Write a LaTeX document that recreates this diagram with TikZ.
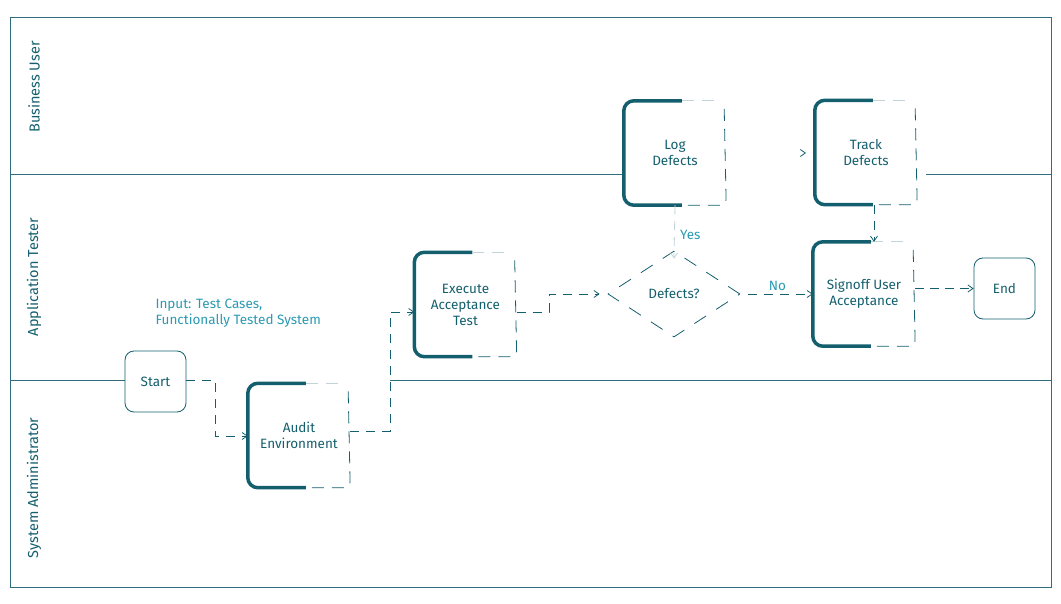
\documentclass[tikz,border=0pt]{standalone}
\usepackage{fontspec}
\setmainfont{Fira Sans}
\usetikzlibrary{arrows.meta,shapes.geometric}
\definecolor{dk}{HTML}{145F6E}
\definecolor{lt}{HTML}{C3D3D8}
\definecolor{ln}{HTML}{2E6E7C}
\definecolor{lb}{HTML}{2A9AB2}
\tikzset{
  txt/.style={font=\fontsize{13.5}{16}\selectfont, text=dk, align=center},
  box/.style={txt, minimum width=102pt, minimum height=104pt, inner sep=0pt},
  term/.style={txt, draw=dk, rounded corners=9pt, minimum width=61pt, minimum height=61pt, line width=0.8pt},
  conn/.style={draw=dk, line width=0.8pt, dash pattern=on 9pt off 7pt, -{Straight Barb[length=5pt,width=7pt]}},
  lane/.style={draw=ln, line width=0.8pt},
  lanelab/.style={font=\fontsize{14.5}{16}\selectfont, text=dk, rotate=90},
}
\newcommand{\procbox}[1]{%
  \draw[dk, line width=3.5pt, rounded corners=10pt] ([xshift=58pt]#1.north west) -- (#1.north west) -- (#1.south west) -- ([xshift=58pt]#1.south west);
  \draw[lt, line width=0.8pt, dash pattern=on 12pt off 8pt] ([xshift=58pt]#1.north west) -- ([xshift=-8pt]#1.north east);
  \draw[dk, line width=0.8pt, dash pattern=on 12pt off 8pt, rounded corners=6pt] ([xshift=-2pt,yshift=-8pt]#1.north east) -- (#1.south east) -- ([xshift=58pt]#1.south west);
}
\begin{document}
\begin{tikzpicture}[x=1pt,y=-1pt]
\useasboundingbox (0,0) rectangle (1061,604);
\draw[lane] (10,17) rectangle (1051,587);
\draw[lane] (10,174) -- (624,174) (926,174) -- (1051,174);
\draw[lane] (10,380) -- (125,380) (390,380) -- (1051,380);
\node[lanelab] (l1) at (34,87) {Business User};
\node[lanelab] (l2) at (34,277) {Application Tester};
\node[lanelab] (l3) at (34,488) {System Administrator};

\node[box] (log) at (675,153) {Log\\Defects};
\node[box] (track) at (866,152.5) {Track\\Defects};
\node[box] (exec) at (465.5,304.5) {Execute\\Acceptance\\Test};
\node[box] (sign) at (864,294) {Signoff User\\Acceptance};
\node[box] (audit) at (299,435.5) {Audit\\Environment};
\procbox{log}\procbox{track}\procbox{exec}\procbox{sign}\procbox{audit}
\node[term] (start) at (155.5,381.5) {Start};
\node[term] (end) at (1004.5,288.5) {End};
\node[txt, draw=dk, line width=0.8pt, dash pattern=on 14pt off 12pt, diamond, minimum width=132pt, minimum height=86pt, inner sep=0pt, aspect=1.5] (dec) at (674,294) {Defects?};
\node[txt, text=lb, align=left, anchor=west] (inp) at (152,313) {Input: Test Cases,\\Functionally Tested System};

\coordinate (a1) at (215,380);
\coordinate (a2) at (215,436);
\draw[conn] (start.east|-a1) -- (a1) -- (a2) -- (audit.west|-a2);
\coordinate (b1) at (390,431);
\coordinate (b2) at (390,312);
\draw[conn] (audit.east|-b1) -- (b1) -- (b2) -- (exec.west|-b2);
\coordinate (c1) at (549,312);
\coordinate (c2) at (549,294);
\draw[conn] (exec.east|-c1) -- (c1) -- (c2) -- ([xshift=-8pt]dec.west);
\draw[conn] ([xshift=8pt]dec.east) -- node[above, txt, text=lb, pos=0.45] {No} (sign.west|-dec);
\draw[conn, draw=lt] (log.south) -- node[right, txt, text=lb, pos=0.55, xshift=2pt] {Yes} ([yshift=-8pt]dec.north);
\draw[conn] (track.south-|sign.north) ++(10pt,0) -- ([xshift=10pt]sign.north);
\coordinate (t1) at (806,153);
\draw[conn, dash pattern=on 0pt off 20pt] ([xshift=-7pt]t1) -- (t1);
\draw[conn, dash pattern=on 9pt off 6pt] (sign.east|-end) -- (end.west);
\end{tikzpicture}
\end{document}
